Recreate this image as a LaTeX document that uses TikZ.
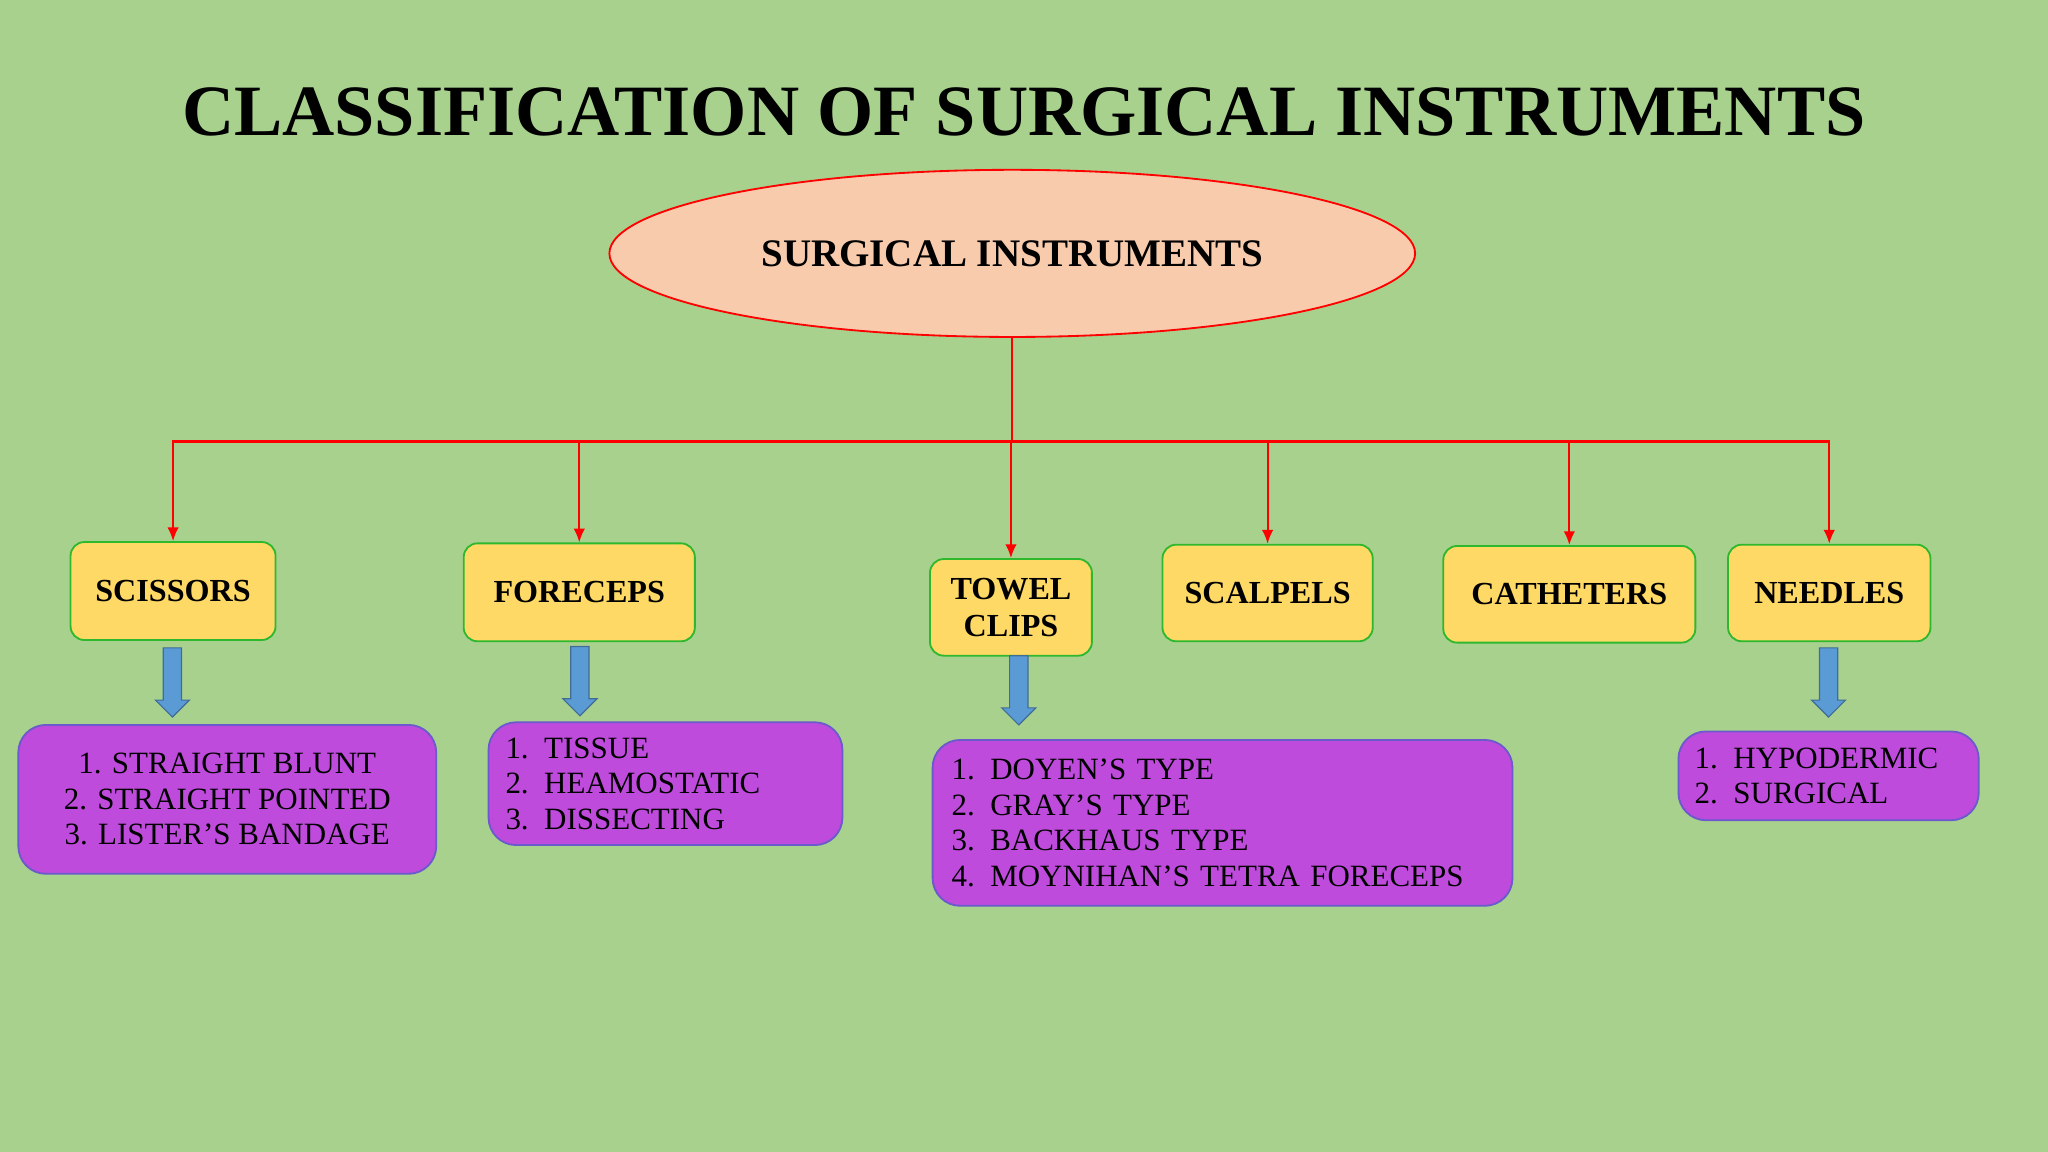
\documentclass[tikz,border=0pt]{standalone}
\usepackage{fontspec}
\setmainfont{Liberation Serif}
\usetikzlibrary{shapes.geometric,arrows.meta}
\definecolor{bg}{HTML}{A9D18E}
\definecolor{peach}{HTML}{F8CBAD}
\definecolor{ylw}{HTML}{FFD966}
\definecolor{grn}{HTML}{2EB82E}
\definecolor{purp}{HTML}{BE4BDB}
\definecolor{purpb}{HTML}{6A5ACD}
\definecolor{blu}{HTML}{5B9BD5}
\begin{document}
\begin{tikzpicture}[x=0.02cm,y=-0.02cm,
  cat/.style={draw=grn,fill=ylw,rounded corners=6pt,line width=0.8pt,font=\fontsize{14}{16}\selectfont\bfseries,align=center,inner sep=0},
  lst/.style={draw=purpb,fill=purp,rounded corners=12pt,line width=0.8pt,font=\fontsize{13.5}{15.5}\selectfont,align=left,inner sep=0},
  conn/.style={red,line width=0.9pt,-{Latex[length=6pt,width=5pt]}},
  blkarrow/.pic={\draw[blu!70!black,fill=blu,line width=0.5pt] (-7,0) -- (7,0) -- (7,40) -- (13,40) -- (0,53) -- (-13,40) -- (-7,40) -- cycle;}]
\fill[bg] (0,0) rectangle (1568,882);
\useasboundingbox (0,0) rectangle (1568,882);
\node (title) at (784,86) {\fontsize{31.5}{36}\selectfont\bfseries CLASSIFICATION OF SURGICAL INSTRUMENTS};
\node[ellipse,draw=red,fill=peach,minimum width=12.34cm,minimum height=2.56cm,line width=0.8pt,font=\fontsize{17}{20}\selectfont\bfseries] (root) at (775,194) {SURGICAL INSTRUMENTS};
\node[cat,minimum width=3.14cm,minimum height=1.5cm] (sc) at (132.5,452.5) {SCISSORS};
\node[cat,minimum width=3.54cm,minimum height=1.5cm] (fo) at (443.5,453.5) {FORECEPS};
\node[cat,minimum width=2.48cm,minimum height=1.48cm] (to) at (774,465) {TOWEL\\CLIPS};
\node[cat,minimum width=3.22cm,minimum height=1.48cm] (sp) at (970.5,454) {SCALPELS};
\node[cat,minimum width=3.86cm,minimum height=1.48cm] (ca) at (1201.5,455) {CATHETERS};
\node[cat,minimum width=3.1cm,minimum height=1.48cm] (ne) at (1400.5,454) {NEEDLES};
\coordinate (j) at (775,338);
\draw[red,line width=0.9pt] (root.south) -- (j);
\foreach \n in {sc,fo,to,sp,ca,ne} \draw[conn] (j) -| (\n.north);
\pic at (132,496) {blkarrow};
\pic at (444,495) {blkarrow};
\pic at (780,502) {blkarrow};
\pic at (1400,496) {blkarrow};
\node[lst,minimum width=6.4cm,minimum height=2.28cm,align=center] (l1) at (174,612) {1. STRAIGHT BLUNT\\2. STRAIGHT POINTED\\3. LISTER’S BANDAGE};
\node[lst,minimum width=5.42cm,minimum height=1.88cm,text width=4.9cm] (l2) at (509.5,600) {1. TISSUE\\2. HEAMOSTATIC\\3. DISSECTING};
\node[lst,minimum width=8.88cm,minimum height=2.54cm,text width=8.3cm] (l3) at (936,630) {1. DOYEN’S TYPE\\2. GRAY’S TYPE\\3. BACKHAUS TYPE\\4. MOYNIHAN’S TETRA FORECEPS};
\node[lst,minimum width=4.6cm,minimum height=1.36cm,text width=4.1cm] (l4) at (1400,594) {1. HYPODERMIC\\2. SURGICAL};
\end{tikzpicture}
\end{document}
